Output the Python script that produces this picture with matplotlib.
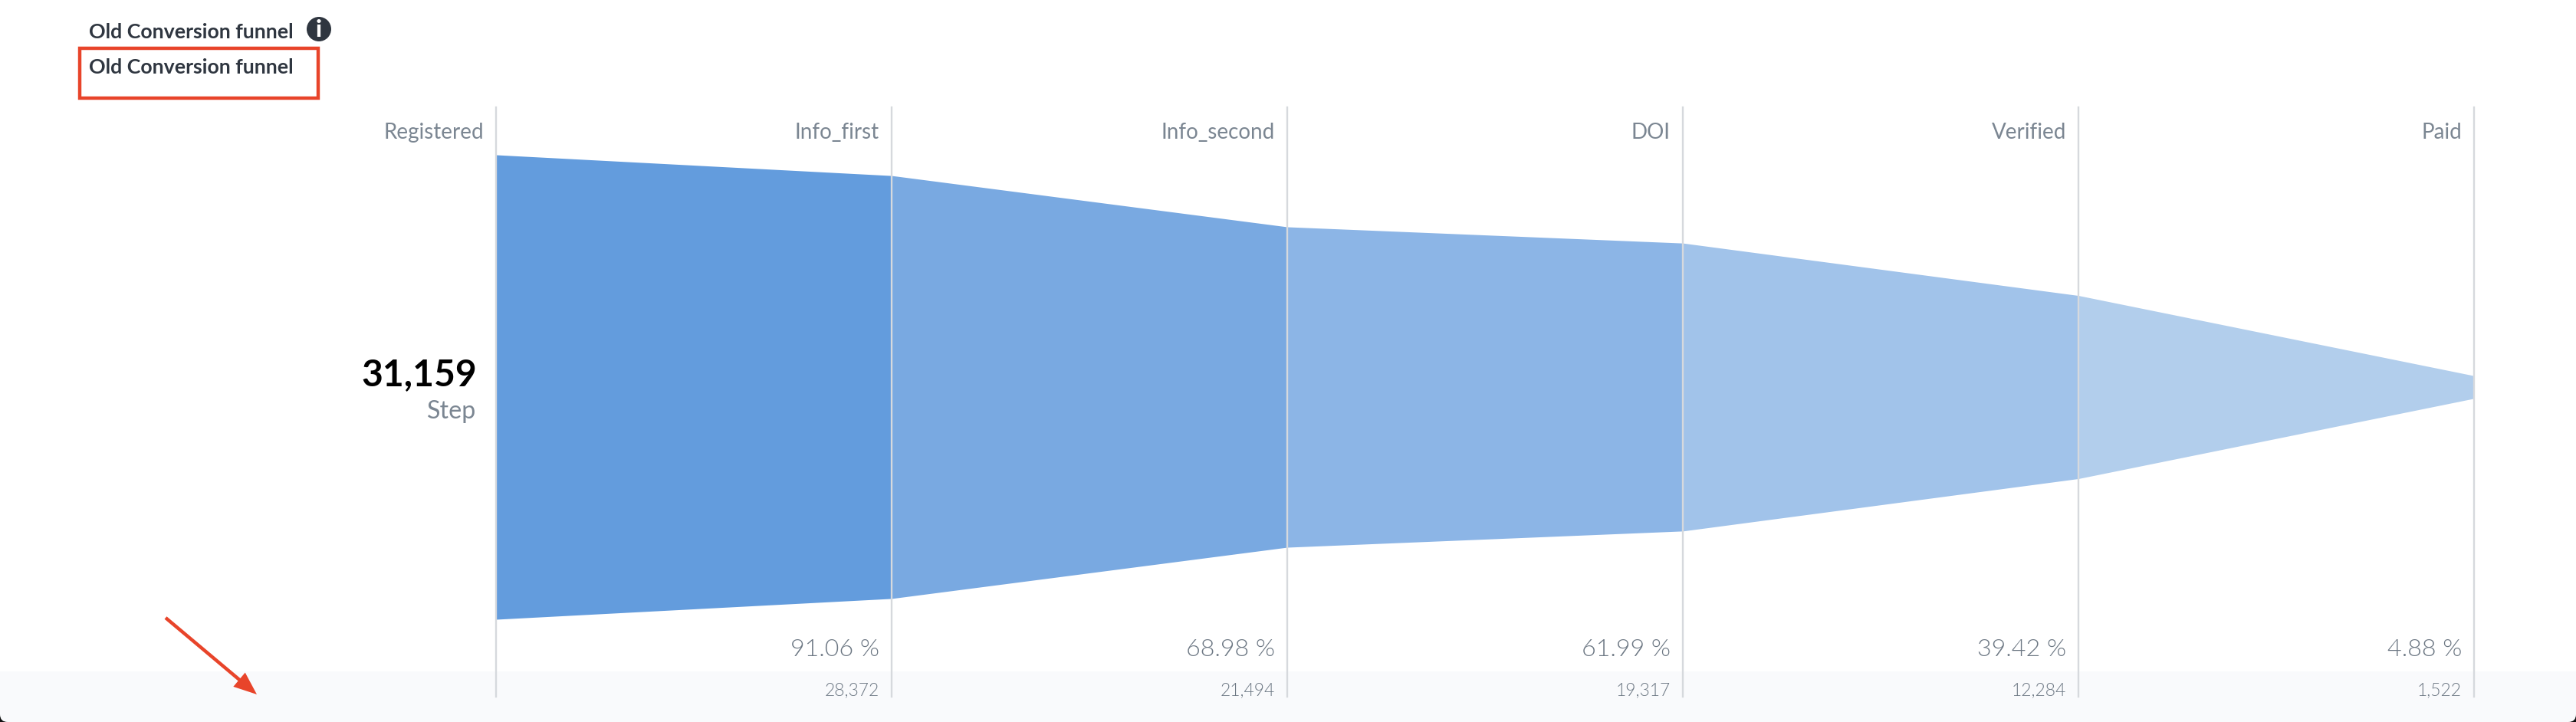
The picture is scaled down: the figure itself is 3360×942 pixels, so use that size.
import matplotlib
matplotlib.use("Agg")
import matplotlib.pyplot as plt
from matplotlib.patches import Rectangle, Circle, FancyArrow, FancyBboxPatch
from matplotlib.transforms import Affine2D

plt.rcParams['font.family'] = ['Lato', 'DejaVu Sans']

W, H = 3360, 942

steps = ["Registered", "Info_first", "Info_second", "DOI", "Verified", "Paid"]
counts = [31159, 28372, 21494, 19317, 12284, 1522]
count_labels = ["31,159", "28,372", "21,494", "19,317", "12,284", "1,522"]
pct_labels = ["", "91.06 %", "68.98 %", "61.99 %", "39.42 %", "4.88 %"]
colors = ["#639cdd", "#79a9e1", "#8cb5e6", "#a1c3ea", "#b2ceec"]
title = "Old Conversion funnel"

GRAY = "#7b8692"
LIGHT_GRAY = "#6c7783"
DARK = "#2f3640"
RED = "#e8442a"

fig = plt.figure(figsize=(W / 100, H / 100), dpi=100, facecolor="white")
px = Affine2D().scale(1 / W, -1 / H).translate(0, 1) + fig.transFigure


def T(x, y, s, size, color=GRAY, ha="right", weight="normal", **kw):
    return fig.text(x, y, s, transform=px, fontsize=size, color=color, ha=ha,
                    va="center", fontweight=weight, **kw)


# rounded bottom edge of the card with the dark screenshot corners behind it
fig.add_artist(Rectangle((0, 925), W, 17, transform=px, fc="#111111", ec="none", zorder=-7))
fig.add_artist(FancyBboxPatch((0, 850), W, 92, boxstyle="round,pad=0,rounding_size=10",
                              transform=px, fc="#f9fafc", ec="none", zorder=-6))
fig.add_artist(Rectangle((0, 0), W, 876, transform=px, fc="white", ec="none", zorder=-5))

# funnel axes: x = step index, y = count around a centred baseline
x0, x1 = 647, 3227
yc, half = 505, 303
ax = fig.add_axes([x0 / W, 1 - (yc + half) / H, (x1 - x0) / W, 2 * half / H])
ax.patch.set_alpha(0)
ax.set_xlim(0, len(steps) - 1)
ax.set_ylim(-counts[0] / 2, counts[0] / 2)
ax.axis("off")
for i in range(len(steps) - 1):
    ax.fill_between([i, i + 1], [-counts[i] / 2, -counts[i + 1] / 2],
                    [counts[i] / 2, counts[i + 1] / 2], color=colors[i], lw=0)

# divider lines and step labels
step_px = (x1 - x0) / (len(steps) - 1)
for i, name in enumerate(steps):
    xp = x0 + i * step_px
    fig.add_artist(plt.Line2D([xp, xp], [140, 909], transform=px, color="#d6d9dd", lw=1.7, zorder=6))
    right = xp - 16
    T(right, 173, name, 20.0)
    if i:
        T(right, 848, pct_labels[i], 23.2, color=LIGHT_GRAY, weight=300)
        T(right, 901, count_labels[i], 16.4, color=LIGHT_GRAY, weight=300)

T(622, 489, count_labels[0], 34.6, color="black", weight="bold")
T(621, 537, "Step", 23.2)

# title block
T(116, 42, title, 19.3, color=DARK, ha="left", weight="bold")
T(116, 88, title, 19.3, color=DARK, ha="left", weight="bold")

# info icon
fig.add_artist(Circle((416, 38), 16, transform=px, fc=DARK, ec="none"))
T(416, 39, "i", 22, color="white", ha="center", weight="black")

# annotations
fig.add_artist(Rectangle((104, 63), 311, 65, transform=px, fc="none", ec=RED, lw=3.2, zorder=8))
fig.add_artist(FancyArrow(216, 806, 335 - 216, 906 - 806, width=4.5, head_width=24, head_length=30,
                          length_includes_head=True, transform=px, fc=RED, ec="none", zorder=8))

fig.savefig("out.png", dpi=100)
